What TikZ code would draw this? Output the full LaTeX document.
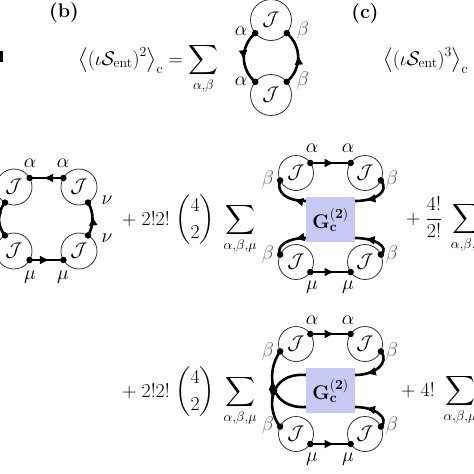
\RequirePackage{fix-cm}
\documentclass[tikz,border=0pt]{standalone}
\usepackage{amsmath}
\usetikzlibrary{arrows.meta,decorations.markings,calc}
\definecolor{gfill}{RGB}{200,200,245}
\begin{document}
\begin{tikzpicture}[x=1pt,y=-1pt,
  every node/.style={font=\fontsize{19.8}{23}\selectfont, inner sep=0pt, outer sep=0pt},
  jcirc/.style={circle, draw=black!80, line width=0.8pt, minimum size=#1, inner sep=0pt},
  jcirc/.default=35pt,
  vdot/.style={circle, fill=black, minimum size=6.5pt},
  link/.style={line width=2.6pt},
  marr/.style={postaction={decorate, decoration={markings, mark=at position #1 with {\arrow{Latex[length=10pt,width=9pt]}}}}},
  glab/.style={text=black!65},
  gbox/.style={fill=gfill, minimum width=49pt, minimum height=45pt}]
\useasboundingbox (0,0) rectangle (474,474);
\clip (0,0) rectangle (474,474);
\fill[white] (0,0) rectangle (474,474);

% ---------- row 1 ----------
\fill (0,51) rectangle (2.5,62);
\node (lb) at (64,13) {\textbf{(b)}};
\node[anchor=base west] (eqb) at (78,65) {$\displaystyle\bigl\langle(\iota\mathcal{S}_{\mathrm{ent}})^2\bigr\rangle_{\mathrm{c}} = \sum_{\alpha,\beta}$};

\node[jcirc=41pt] (bt) at (271,20) {$\mathcal{J}$};
\node[jcirc=41pt] (bb) at (271,95) {$\mathcal{J}$};
\node[vdot] (bt1) at (bt.220) {};
\node[vdot] (bt2) at (bt.320) {};
\node[vdot] (bb1) at (bb.140) {};
\node[vdot] (bb2) at (bb.40) {};
\draw[link, marr=0.55] (bt1.center) .. controls (240,46) and (240,69) .. (bb1.center);
\draw[link, marr=0.55] (bb2.center) .. controls (302,69) and (302,46) .. (bt2.center);
\node (bl1) at (241,31) {$\alpha$};
\node (bl2) at (241,81) {$\alpha$};
\node[glab] (bl3) at (303,31) {$\beta$};
\node[glab] (bl4) at (303,81) {$\beta$};

\node (lc) at (365,14) {\textbf{(c)}};
\node[anchor=base west] (eqc) at (383,65) {$\displaystyle\bigl\langle(\iota\mathcal{S}_{\mathrm{ent}})^3\bigr\rangle_{\mathrm{c}}$};

% ---------- row 2: ring ----------
\node[jcirc=36pt] (ra) at (14,187) {$\mathcal{J}$};
\node[jcirc=36pt] (rb) at (79,187) {$\mathcal{J}$};
\node[jcirc=36pt] (rc) at (79,251) {$\mathcal{J}$};
\node[jcirc=36pt] (rd) at (14,251) {$\mathcal{J}$};
\node[vdot] (ra1) at (ra.30) {};
\node[vdot] (ra2) at (ra.240) {};
\node[vdot] (rb1) at (rb.150) {};
\node[vdot] (rb2) at (rb.300) {};
\node[vdot] (rc1) at (rc.60) {};
\node[vdot] (rc2) at (rc.210) {};
\node[vdot] (rd1) at (rd.330) {};
\node[vdot] (rd2) at (rd.120) {};
\draw[link, marr=0.6] (rb1.center) -- (ra1.center);
\draw[link, marr=0.6] (rc1.center) .. controls (94,226) and (94,212) .. (rb2.center);
\draw[link, marr=0.6] (rd1.center) -- (rc2.center);
\draw[link, marr=0.6] (ra2.center) .. controls (-3,212) and (-3,226) .. (rd2.center);
\node (rl1) at (30,163) {$\alpha$};
\node (rl2) at (63,163) {$\alpha$};
\node (rl3) at (107,200) {$\nu$};
\node (rl4) at (107,238) {$\nu$};
\node (rl5) at (30,277) {$\mu$};
\node (rl6) at (63,277) {$\mu$};

\node[anchor=base west] (t2) at (122,225) {$\displaystyle +\;2!2!\;\binom{4}{2}\;\sum_{\alpha,\beta,\mu}$};

% ---------- row 2: G diagram ----------
\node[gbox] (g2) at (330.5,219.5) {$\mathbf{G}_{\mathbf{c}}^{(\mathbf{2})}$};
\node[jcirc] (p1) at (296,173) {$\mathcal{J}$};
\node[jcirc] (p2) at (365,173) {$\mathcal{J}$};
\node[jcirc] (p3) at (296,262) {$\mathcal{J}$};
\node[jcirc] (p4) at (365,262) {$\mathcal{J}$};
\node[vdot] (p1a) at (p1.35) {};
\node[vdot] (p1b) at (p1.205) {};
\node[vdot] (p2a) at (p2.145) {};
\node[vdot] (p2b) at (p2.-25) {};
\node[vdot] (p3b) at (p3.155) {};
\node[vdot] (p3m) at (p3.-35) {};
\node[vdot] (p4b) at (p4.25) {};
\node[vdot] (p4m) at (p4.215) {};
\coordinate (g2tl) at ($(g2.north west)+(0,4)$);
\coordinate (g2tr) at ($(g2.north east)+(0,4)$);
\coordinate (g2bl) at ($(g2.south west)+(0,-4)$);
\coordinate (g2br) at ($(g2.south east)+(0,-4)$);
\draw[link, marr=0.6] (p1a.center) -- (p2a.center);
\draw[link, marr=0.6] (p3m.center) -- (p4m.center);
\draw[link, marr=0.32] (g2tl) .. controls (286,201) and (276,192) .. (p1b.center);
\draw[link, marr=0.75] (p2b.center) .. controls (390,192) and (375,201) .. (g2tr);
\draw[link, marr=0.32] (g2bl) .. controls (286,238) and (276,247) .. (p3b.center);
\draw[link, marr=0.75] (p4b.center) .. controls (390,247) and (375,238) .. (g2br);
\node (pl1) at (312,148) {$\alpha$};
\node (pl2) at (348,148) {$\alpha$};
\node[glab] (pl3) at (268,180) {$\beta$};
\node[glab] (pl4) at (392,180) {$\beta$};
\node[glab] (pl5) at (268,255) {$\beta$};
\node[glab] (pl6) at (392,255) {$\beta$};
\node (pl7) at (312,287) {$\mu$};
\node (pl8) at (348,287) {$\mu$};

\node[anchor=base west] (t2r) at (406,224) {$\displaystyle +\;\frac{4!}{2!}\;\sum_{\alpha,\beta,\mu}$};

% ---------- row 3 ----------
\node[anchor=base west] (t3) at (122,397) {$\displaystyle +\;2!2!\;\binom{4}{2}\;\sum_{\alpha,\beta,\mu}$};

\node[gbox] (g3) at (330.5,390.5) {$\mathbf{G}_{\mathbf{c}}^{(\mathbf{2})}$};
\node[jcirc] (q1) at (296,344) {$\mathcal{J}$};
\node[jcirc] (q2) at (365,344) {$\mathcal{J}$};
\node[jcirc] (q3) at (296,434) {$\mathcal{J}$};
\node[jcirc] (q4) at (365,434) {$\mathcal{J}$};
\node[vdot] (q1a) at (q1.35) {};
\node[vdot] (q1b) at (q1.205) {};
\node[vdot] (q2a) at (q2.145) {};
\node[vdot] (q2b) at (q2.-25) {};
\node[vdot] (q3b) at (q3.155) {};
\node[vdot] (q3m) at (q3.-35) {};
\node[vdot] (q4b) at (q4.25) {};
\node[vdot] (q4m) at (q4.215) {};
\coordinate (g3tl) at ($(g3.north west)+(0,7)$);
\coordinate (g3tr) at ($(g3.north east)+(0,7)$);
\coordinate (g3bl) at ($(g3.south west)+(0,-6)$);
\coordinate (g3br) at ($(g3.south east)+(0,-6)$);
\draw[link, marr=0.6] (q1a.center) -- (q2a.center);
\draw[link, marr=0.6] (q3m.center) -- (q4m.center);
\draw[link, marr=0.75] (q2b.center) .. controls (390,363) and (375,375) .. (g3tr);
\draw[link, marr=0.75] (q4b.center) .. controls (390,418) and (375,407) .. (g3br);
\draw[link, marr=0.62] (g3tl) .. controls (268,372) and (266,410) .. (q3b.center);
\draw[link, marr=0.62] (g3bl) .. controls (268,409) and (266,371) .. (q1b.center);
\node (ql1) at (312,320) {$\alpha$};
\node (ql2) at (348,320) {$\alpha$};
\node[glab] (ql3) at (268,352) {$\beta$};
\node[glab] (ql4) at (392,352) {$\beta$};
\node[glab] (ql5) at (268,426) {$\beta$};
\node[glab] (ql6) at (392,426) {$\beta$};
\node (ql7) at (312,459) {$\mu$};
\node (ql8) at (348,459) {$\mu$};

\node[anchor=base west] (t3r) at (401,396) {$\displaystyle +\;4!\;\sum_{\alpha,\beta,\mu}$};
\end{tikzpicture}
\end{document}
